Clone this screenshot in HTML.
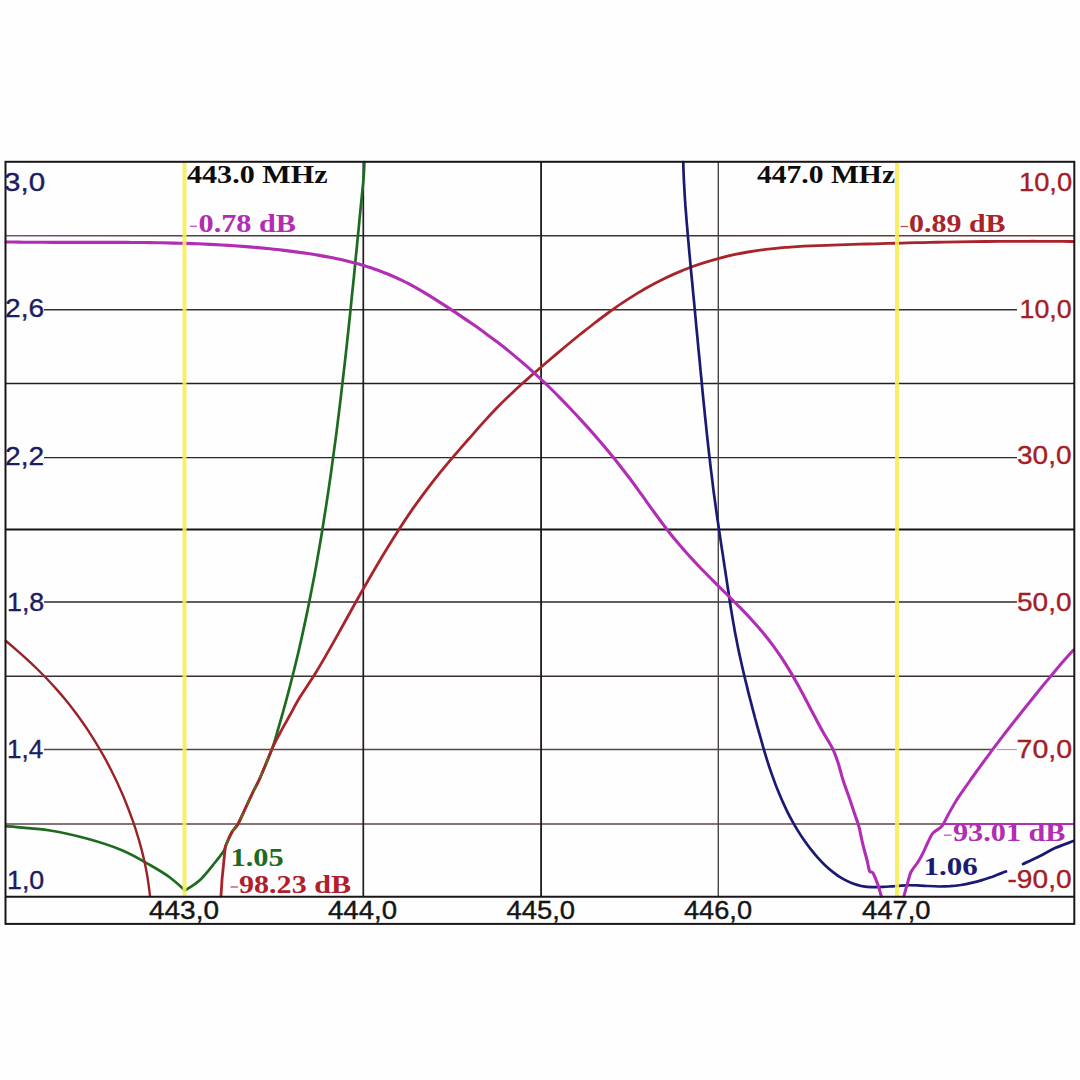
<!DOCTYPE html>
<html><head><meta charset="utf-8"><title>Duplexer response</title>
<style>
html,body{margin:0;padding:0;background:#fefefe;}
body{width:1080px;height:1080px;overflow:hidden;font-family:"Liberation Sans",sans-serif;}
svg{display:block;}
</style></head><body>
<svg width="1080" height="1080" viewBox="0 0 1080 1080">
<rect width="1080" height="1080" fill="#fefefe"/>
<defs><linearGradient id="g1" gradientUnits="userSpaceOnUse" x1="5" y1="0" x2="1075" y2="0"><stop offset="0" stop-color="#7a5478"/><stop offset="0.3" stop-color="#3c3236"/><stop offset="0.62" stop-color="#3c3236"/><stop offset="0.8" stop-color="#6e3a3a"/><stop offset="1" stop-color="#7c3434"/></linearGradient></defs>
<line x1="5.5" y1="235.7" x2="1074.3" y2="235.7" stroke="url(#g1)" stroke-width="1.5"/>
<line x1="44.0" y1="309.8" x2="1017.0" y2="309.8" stroke="#34302f" stroke-width="1.4"/>
<line x1="5.5" y1="383.5" x2="1074.3" y2="383.5" stroke="#241e20" stroke-width="1.6"/>
<line x1="44.0" y1="457.6" x2="1017.0" y2="457.6" stroke="#2c2627" stroke-width="1.4"/>
<line x1="5.5" y1="529.5" x2="1074.3" y2="529.5" stroke="#171314" stroke-width="1.9"/>
<line x1="44.0" y1="602.0" x2="1017.0" y2="602.0" stroke="#2e2728" stroke-width="1.5"/>
<line x1="5.5" y1="676.2" x2="1074.3" y2="676.2" stroke="#3a2f30" stroke-width="1.5"/>
<line x1="44.0" y1="749.6" x2="993.0" y2="749.6" stroke="#5a4444" stroke-width="1.5"/>
<line x1="5.5" y1="824.1" x2="1074.3" y2="824.1" stroke="#5c4646" stroke-width="1.5"/>
<line x1="363.3" y1="161.8" x2="363.3" y2="896.8" stroke="#221c1e" stroke-width="1.7"/>
<line x1="541.1" y1="161.8" x2="541.1" y2="896.8" stroke="#1e191b" stroke-width="1.8"/>
<line x1="718.3" y1="161.8" x2="718.3" y2="896.8" stroke="#4c4648" stroke-width="1.4"/>
<line x1="997" y1="749.6" x2="1017" y2="749.6" stroke="#c77fb0" stroke-width="1"/>
<line x1="943" y1="824.1" x2="1074.3" y2="824.1" stroke="#b02db4" stroke-width="1.6"/>
<path d="M6.0 826.2 C13.3 827.0 36.4 828.4 50.0 830.5 C63.6 832.6 75.4 835.4 87.5 838.8 C99.6 842.1 112.1 846.1 122.5 850.5 C132.9 854.9 142.1 860.5 150.0 865.0 C157.9 869.5 164.2 873.2 170.0 877.5 C175.8 881.8 182.5 888.3 185.0 890.5" fill="none" stroke="#1d6b1f" stroke-width="2.7" stroke-linejoin="round" stroke-linecap="round"/>
<path d="M185.0 890.5 C187.5 888.8 195.0 884.7 200.0 880.0 C205.0 875.3 211.0 867.4 215.0 862.5 C219.0 857.6 222.2 853.4 224.0 850.5 C225.8 847.6 224.7 848.1 226.0 845.0 C227.3 841.9 230.0 835.5 232.0 832.0 C234.0 828.5 235.7 828.2 238.0 824.0 C240.3 819.8 243.5 812.3 246.0 807.0 C248.5 801.7 250.7 796.8 253.0 792.0 C255.3 787.2 256.8 785.2 260.0 778.0 C263.2 770.8 269.0 757.0 272.0 749.0 C275.0 741.0 276.0 736.3 277.9 729.9 C279.8 723.5 281.6 717.1 283.4 710.7 C285.2 704.2 286.9 697.8 288.6 691.3 C290.3 684.9 292.0 678.4 293.6 672.0 C295.2 665.5 296.8 659.0 298.3 652.6 C299.8 646.1 301.3 639.6 302.7 633.1 C304.1 626.6 305.5 620.1 306.9 613.6 C308.2 607.1 309.6 600.5 310.8 594.0 C312.1 587.5 313.4 580.9 314.6 574.4 C315.8 567.8 317.0 561.3 318.1 554.7 C319.3 548.2 320.4 541.6 321.5 535.0 C322.6 528.5 323.6 521.9 324.6 515.3 C325.7 508.7 326.7 502.1 327.7 495.5 C328.7 488.9 329.6 482.3 330.6 475.7 C331.5 469.1 332.4 462.5 333.3 455.9 C334.2 449.3 335.1 442.7 336.0 436.1 C336.8 429.5 337.7 422.9 338.5 416.2 C339.3 409.6 340.1 403.0 340.9 396.4 C341.7 389.7 342.5 383.1 343.2 376.5 C344.0 369.9 344.8 363.2 345.5 356.6 C346.2 350.0 347.0 343.3 347.7 336.7 C348.4 330.1 349.1 323.4 349.8 316.8 C350.5 310.1 351.2 303.5 351.8 296.9 C352.5 290.2 353.2 283.6 353.9 277.0 C354.5 270.3 355.2 263.7 355.8 257.1 C356.5 250.4 357.2 243.8 357.8 237.2 C358.5 230.6 359.1 223.9 359.7 217.3 C360.4 210.7 361.0 204.1 361.7 197.5 C362.3 190.8 363.2 183.5 363.6 177.6 C364.1 171.7 364.3 164.6 364.4 162.0" fill="none" stroke="#1d6b1f" stroke-width="2.7" stroke-linejoin="round" stroke-linecap="round"/>
<path d="M6.0 641.0 C7.8 642.5 13.1 647.0 16.6 650.1 C20.1 653.1 23.6 656.2 27.0 659.4 C30.4 662.5 33.8 665.7 37.2 669.0 C40.5 672.3 43.8 675.6 47.1 679.0 C50.3 682.4 53.5 685.9 56.6 689.4 C59.7 692.9 62.7 696.4 65.7 700.0 C68.7 703.6 71.5 707.3 74.3 711.0 C77.2 714.7 79.9 718.5 82.5 722.3 C85.2 726.1 87.8 729.9 90.3 733.8 C92.8 737.7 95.3 741.7 97.6 745.6 C100.0 749.6 102.3 753.6 104.6 757.7 C106.8 761.8 109.0 765.9 111.1 770.0 C113.2 774.2 115.2 778.3 117.2 782.6 C119.1 786.8 121.0 791.0 122.9 795.3 C124.7 799.6 126.4 803.9 128.1 808.2 C129.8 812.6 131.4 817.0 133.0 821.4 C134.5 825.8 136.0 830.2 137.3 834.7 C138.7 839.1 140.0 843.6 141.2 848.1 C142.4 852.7 143.5 857.2 144.5 861.7 C145.5 866.3 146.4 870.9 147.2 875.5 C148.0 880.1 148.7 885.9 149.2 889.3 C149.6 892.7 149.9 894.9 150.0 896.0" fill="none" stroke="#9a2226" stroke-width="2.4" stroke-linejoin="round" stroke-linecap="round"/>
<path d="M221.0 896.0 C221.2 893.3 221.7 884.3 222.0 880.0 C222.3 875.7 222.5 875.0 223.0 870.0 C223.5 865.0 224.5 854.2 225.0 850.0 C225.5 845.8 224.8 848.0 226.0 845.0 C227.2 842.0 230.0 835.5 232.0 832.0 C234.0 828.5 235.7 828.2 238.0 824.0 C240.3 819.8 243.5 812.3 246.0 807.0 C248.5 801.7 250.7 796.8 253.0 792.0 C255.3 787.2 256.8 785.2 260.0 778.0 C263.2 770.8 268.7 756.5 272.0 749.0 C275.3 741.5 277.0 738.7 280.0 733.0 C283.0 727.3 286.7 721.0 290.0 715.0 C293.3 709.0 296.0 703.6 300.0 697.1 C304.0 690.5 309.3 683.1 314.0 675.6 C318.7 668.1 323.3 660.0 328.0 651.9 C332.7 643.8 337.3 635.4 342.0 627.0 C346.7 618.6 351.3 610.1 356.0 601.8 C360.7 593.5 365.3 585.2 370.0 577.2 C374.7 569.1 379.3 561.1 384.0 553.4 C388.7 545.7 393.3 538.2 398.0 530.9 C402.7 523.7 407.3 516.7 412.0 509.9 C416.7 503.2 421.3 496.8 426.0 490.6 C430.7 484.3 435.3 478.4 440.0 472.6 C444.7 466.8 449.3 461.3 454.0 455.8 C458.7 450.4 463.3 445.1 468.0 439.8 C472.7 434.5 477.3 429.1 482.0 423.9 C486.7 418.8 491.3 413.6 496.0 408.8 C500.7 403.9 505.3 399.3 510.0 394.9 C514.7 390.4 519.3 386.2 524.0 382.0 C528.7 377.9 533.3 373.8 538.0 369.8 C542.7 365.8 547.3 361.8 552.0 357.8 C556.7 353.9 561.3 349.9 566.0 346.0 C570.7 342.1 575.3 338.3 580.0 334.5 C584.7 330.8 589.3 327.1 594.0 323.5 C598.7 319.9 603.3 316.4 608.0 313.0 C612.7 309.6 617.3 306.3 622.0 303.2 C626.7 300.0 631.3 297.0 636.0 294.1 C640.7 291.3 645.3 288.5 650.0 286.0 C654.7 283.4 659.3 281.0 664.0 278.7 C668.7 276.5 673.3 274.4 678.0 272.4 C682.7 270.4 687.3 268.6 692.0 266.8 C696.7 265.1 701.3 263.5 706.0 262.1 C710.7 260.6 715.3 259.3 720.0 258.1 C724.7 256.8 729.3 255.7 734.0 254.7 C738.7 253.7 743.3 252.8 748.0 252.0 C752.7 251.2 757.3 250.5 762.0 249.9 C766.7 249.3 771.3 248.8 776.0 248.3 C780.7 247.8 785.3 247.5 790.0 247.1 C794.7 246.8 799.3 246.5 804.0 246.2 C808.7 246.0 813.3 245.8 818.0 245.6 C822.7 245.4 827.3 245.2 832.0 245.1 C836.7 244.9 841.3 244.8 846.0 244.6 C850.7 244.5 855.3 244.3 860.0 244.2 C864.7 244.1 869.3 243.9 874.0 243.8 C878.7 243.7 883.3 243.5 888.0 243.4 C892.7 243.3 897.3 243.2 902.0 243.1 C906.7 242.9 911.3 242.8 916.0 242.7 C920.7 242.6 925.3 242.5 930.0 242.4 C934.7 242.3 939.3 242.2 944.0 242.1 C948.7 242.0 953.3 241.9 958.0 241.9 C962.7 241.8 967.3 241.7 972.0 241.7 C976.7 241.6 981.3 241.5 986.0 241.5 C990.7 241.4 995.3 241.4 1000.0 241.4 C1004.7 241.3 1009.3 241.3 1014.0 241.3 C1018.7 241.3 1023.3 241.3 1028.0 241.3 C1032.7 241.2 1037.3 241.3 1042.0 241.3 C1046.7 241.3 1051.3 241.3 1056.0 241.3 C1060.7 241.4 1067.1 241.4 1070.0 241.5 C1072.9 241.5 1072.9 241.5 1073.5 241.5" fill="none" stroke="#a8242a" stroke-width="2.8" stroke-linejoin="round" stroke-linecap="round"/>
<path d="M683.3 162.0 C683.3 163.9 683.4 169.5 683.6 173.1 C683.7 176.8 683.9 180.4 684.1 184.0 C684.3 187.7 684.5 191.3 684.7 195.0 C684.9 198.6 685.2 202.2 685.4 205.9 C685.7 209.5 686.0 213.2 686.3 216.8 C686.5 220.4 686.8 224.1 687.2 227.7 C687.5 231.4 687.8 235.0 688.1 238.7 C688.4 242.3 688.8 246.0 689.1 249.6 C689.4 253.3 689.8 256.9 690.1 260.6 C690.5 264.2 690.8 267.9 691.1 271.5 C691.5 275.2 691.8 278.8 692.2 282.5 C692.5 286.1 692.9 289.8 693.2 293.4 C693.6 297.1 693.9 300.7 694.3 304.4 C694.6 308.1 695.0 311.7 695.3 315.4 C695.7 319.0 696.0 322.7 696.3 326.3 C696.7 330.0 697.0 333.6 697.4 337.3 C697.7 341.0 698.1 344.6 698.4 348.3 C698.8 351.9 699.1 355.6 699.5 359.2 C699.8 362.9 700.2 366.5 700.5 370.2 C700.9 373.8 701.2 377.5 701.6 381.2 C701.9 384.8 702.3 388.5 702.6 392.1 C703.0 395.8 703.4 399.4 703.7 403.1 C704.1 406.7 704.5 410.4 704.8 414.0 C705.2 417.7 705.6 421.3 706.0 425.0 C706.3 428.6 706.7 432.3 707.1 435.9 C707.5 439.6 707.9 443.2 708.3 446.9 C708.7 450.5 709.1 454.2 709.6 457.8 C710.0 461.5 710.4 465.1 710.8 468.7 C711.3 472.4 711.7 476.0 712.2 479.7 C712.6 483.3 713.1 487.0 713.5 490.6 C714.0 494.2 714.5 497.9 715.0 501.5 C715.5 505.1 716.0 508.8 716.5 512.4 C717.0 516.0 717.5 519.7 718.1 523.3 C718.6 526.9 719.1 530.6 719.7 534.2 C720.2 537.8 720.8 541.5 721.3 545.1 C721.9 548.7 722.4 552.3 723.0 555.9 C723.5 559.6 724.1 563.2 724.6 566.8 C725.2 570.4 725.7 574.0 726.3 577.7 C726.8 581.3 727.4 584.9 727.9 588.5 C728.5 592.1 729.0 595.7 729.5 599.3 C730.1 602.9 730.6 606.5 731.2 610.1 C731.8 613.7 732.4 617.3 733.0 620.9 C733.6 624.5 734.3 628.1 734.9 631.7 C735.6 635.3 736.3 638.9 737.0 642.5 C737.7 646.1 738.5 649.7 739.2 653.3 C740.0 656.8 740.8 660.4 741.6 664.0 C742.4 667.6 743.2 671.2 744.1 674.7 C744.9 678.3 745.8 681.9 746.7 685.4 C747.5 689.0 748.4 692.6 749.3 696.1 C750.3 699.7 751.2 703.3 752.1 706.8 C753.0 710.4 754.0 713.9 754.9 717.5 C755.9 721.0 756.8 724.6 757.8 728.1 C758.8 731.7 759.8 735.2 760.8 738.7 C761.8 742.3 762.8 745.8 763.8 749.3 C764.9 752.8 765.9 756.3 767.0 759.8 C768.1 763.3 769.2 766.8 770.4 770.3 C771.6 773.7 772.8 777.2 774.1 780.6 C775.3 784.0 776.6 787.4 778.0 790.8 C779.4 794.2 780.8 797.6 782.3 800.9 C783.8 804.2 785.3 807.5 786.9 810.8 C788.5 814.1 790.2 817.3 792.0 820.6 C793.8 823.8 795.6 827.0 797.5 830.1 C799.5 833.3 801.5 836.4 803.6 839.5 C805.7 842.5 807.9 845.6 810.3 848.6 C812.6 851.5 815.0 854.5 817.5 857.3 C820.0 860.1 822.6 862.9 825.3 865.4 C828.0 868.0 830.8 870.4 833.7 872.6 C836.5 874.9 839.5 876.9 842.6 878.7 C845.7 880.5 848.8 882.0 852.1 883.3 C855.3 884.5 858.7 885.5 862.1 886.2 C865.5 886.8 869.1 887.1 872.6 887.2 C876.2 887.3 879.9 887.1 883.6 886.9 C887.2 886.7 891.0 886.3 894.7 886.1 C898.5 885.8 902.2 885.5 906.0 885.3 C909.7 885.2 913.5 885.3 917.2 885.4 C920.9 885.5 924.6 885.8 928.3 886.0 C931.9 886.2 935.6 886.4 939.2 886.5 C942.9 886.5 946.5 886.4 950.1 886.2 C953.7 885.9 957.2 885.5 960.8 885.0 C964.4 884.4 967.9 883.7 971.4 882.9 C975.0 882.1 978.5 881.2 982.0 880.1 C985.5 879.1 989.0 877.9 992.5 876.7 C995.9 875.4 1000.6 873.4 1002.9 872.6 C1005.1 871.7 1005.5 871.7 1006.0 871.5" fill="none" stroke="#1b1a72" stroke-width="2.7" stroke-linejoin="round" stroke-linecap="round"/>
<path d="M1023.0 864.0 C1025.8 862.7 1034.7 858.7 1040.0 856.0 C1045.3 853.3 1049.4 850.5 1055.0 848.0 C1060.6 845.5 1070.4 842.2 1073.5 841.0" fill="none" stroke="#1b1a72" stroke-width="2.8" stroke-linejoin="round" stroke-linecap="round"/>
<path d="M226.0 845.0 C227.0 842.8 230.0 835.5 232.0 832.0 C234.0 828.5 235.7 828.2 238.0 824.0 C240.3 819.8 243.5 812.3 246.0 807.0 C248.5 801.7 250.7 796.8 253.0 792.0 C255.3 787.2 256.8 785.2 260.0 778.0 C263.2 770.8 270.0 753.8 272.0 749.0" fill="none" stroke="#5d6a1e" stroke-width="2.4" stroke-dasharray="7 8" stroke-opacity="0.85"/>
<path d="M6.0 242.0 C8.0 242.0 14.0 242.1 18.0 242.1 C22.0 242.2 26.0 242.2 30.0 242.3 C34.0 242.3 38.0 242.3 42.0 242.3 C46.0 242.3 50.0 242.3 54.0 242.4 C58.0 242.4 62.0 242.4 66.0 242.4 C70.0 242.4 74.0 242.4 78.0 242.4 C82.0 242.4 86.0 242.4 90.0 242.4 C94.0 242.4 98.0 242.4 102.0 242.4 C106.0 242.4 110.0 242.4 114.0 242.4 C118.0 242.4 122.0 242.4 126.0 242.4 C130.0 242.4 134.0 242.5 138.0 242.5 C142.0 242.5 146.0 242.6 150.0 242.6 C154.0 242.7 158.0 242.8 162.0 242.8 C166.0 242.9 170.0 243.0 174.0 243.1 C178.0 243.2 182.0 243.3 186.0 243.4 C190.0 243.5 194.0 243.7 198.0 243.8 C202.0 244.0 206.0 244.2 210.0 244.4 C214.0 244.6 218.0 244.8 222.0 245.0 C226.0 245.2 230.0 245.5 234.0 245.7 C238.0 246.0 242.0 246.3 246.0 246.6 C250.0 246.9 254.0 247.3 258.0 247.6 C262.0 248.0 266.0 248.4 270.0 248.8 C274.0 249.2 278.0 249.6 282.0 250.1 C286.0 250.6 290.0 251.1 294.0 251.6 C298.0 252.1 302.0 252.6 306.0 253.2 C310.0 253.8 314.0 254.4 318.0 255.1 C322.0 255.8 326.0 256.5 330.0 257.3 C334.0 258.1 338.0 258.9 342.0 259.8 C346.0 260.8 350.0 261.7 354.0 262.8 C358.0 263.9 362.0 265.0 366.0 266.3 C370.0 267.5 374.0 268.9 378.0 270.3 C382.0 271.8 386.0 273.3 390.0 275.0 C394.0 276.7 398.0 278.5 402.0 280.4 C406.0 282.4 410.0 284.4 414.0 286.6 C418.0 288.8 422.0 291.1 426.0 293.6 C430.0 296.0 434.0 298.5 438.0 301.1 C442.0 303.6 446.0 306.2 450.0 308.9 C454.0 311.5 458.0 314.2 462.0 316.9 C466.0 319.6 470.0 322.3 474.0 325.1 C478.0 327.9 482.0 330.8 486.0 333.7 C490.0 336.6 494.0 339.6 498.0 342.6 C502.0 345.7 506.0 348.9 510.0 352.1 C514.0 355.4 518.0 358.7 522.0 362.2 C526.0 365.6 530.0 369.2 534.0 372.8 C538.0 376.4 542.0 380.2 546.0 384.0 C550.0 387.9 554.0 391.8 558.0 395.8 C562.0 399.8 566.0 404.0 570.0 408.2 C574.0 412.4 578.0 416.7 582.0 421.1 C586.0 425.4 590.0 429.9 594.0 434.5 C598.0 439.1 602.0 443.7 606.0 448.5 C610.0 453.3 614.0 458.2 618.0 463.2 C622.0 468.3 626.0 473.5 630.0 478.8 C634.0 484.1 638.0 489.7 642.0 495.2 C646.0 500.8 650.0 506.5 654.0 512.0 C658.0 517.5 662.0 523.0 666.0 528.2 C670.0 533.4 674.0 538.4 678.0 543.1 C682.0 547.9 686.0 552.4 690.0 556.8 C694.0 561.2 698.0 565.4 702.0 569.5 C706.0 573.6 710.0 577.6 714.0 581.6 C718.0 585.6 722.0 589.5 726.0 593.5 C730.0 597.5 734.0 601.4 738.0 605.5 C742.0 609.6 746.0 613.6 750.0 618.0 C754.0 622.3 758.0 626.8 762.0 631.6 C766.0 636.4 770.0 641.4 774.0 646.9 C778.0 652.4 782.0 658.2 786.0 664.6 C790.0 670.9 794.0 677.9 798.0 685.0 C802.0 692.2 806.0 700.1 810.0 707.7 C814.0 715.2 818.2 723.5 822.0 730.3 C825.8 737.1 829.8 743.1 832.5 748.4 C835.2 753.8 836.2 757.2 838.0 762.5 C839.8 767.8 841.0 773.8 843.0 780.0 C845.0 786.2 848.0 794.2 850.0 800.0 C852.0 805.8 853.5 810.6 855.0 815.0 C856.5 819.4 857.4 821.2 858.8 826.2 C860.1 831.2 861.6 839.4 863.0 845.0 C864.4 850.6 865.9 855.7 867.0 860.0 C868.1 864.3 868.5 868.8 869.5 871.0 C870.5 873.2 871.6 870.7 873.0 873.0 C874.4 875.3 876.6 881.2 878.0 885.0 C879.4 888.8 880.7 894.2 881.2 896.0" fill="none" stroke="#b02db4" stroke-width="3.1" stroke-linejoin="round" stroke-linecap="round"/>
<path d="M904.0 896.0 C904.5 894.2 905.8 889.0 907.0 885.0 C908.2 881.0 909.2 875.8 911.0 872.0 C912.8 868.2 916.0 865.2 918.0 862.0 C920.0 858.8 921.2 856.7 923.0 853.0 C924.8 849.3 927.3 843.3 929.0 840.0 C930.7 836.7 930.8 835.3 933.0 833.0 C935.2 830.7 939.5 829.0 942.0 826.0 C944.5 823.0 945.7 819.1 948.0 815.0 C950.3 810.9 953.1 805.7 955.9 801.2 C958.7 796.7 961.8 792.4 964.8 788.0 C967.9 783.7 970.9 779.3 974.0 775.0 C977.1 770.6 980.2 766.3 983.4 762.0 C986.5 757.7 989.7 753.5 992.9 749.2 C996.1 744.9 999.3 740.7 1002.6 736.4 C1005.8 732.2 1009.1 728.0 1012.4 723.8 C1015.7 719.6 1019.0 715.4 1022.3 711.2 C1025.6 707.0 1029.0 702.9 1032.3 698.7 C1035.7 694.6 1039.0 690.4 1042.4 686.3 C1045.8 682.2 1049.2 678.1 1052.6 674.0 C1056.0 669.9 1059.4 665.8 1062.9 661.8 C1066.4 657.8 1071.7 652.0 1073.5 650.0" fill="none" stroke="#b02db4" stroke-width="3.0" stroke-linejoin="round" stroke-linecap="round"/>
<line x1="184.5" y1="162.8" x2="184.5" y2="895.8" stroke="#f8ec58" stroke-width="4.0" stroke-opacity="0.9"/>
<line x1="897" y1="162.8" x2="897" y2="895.8" stroke="#f8ec58" stroke-width="4.0" stroke-opacity="0.9"/>
<rect x="5.5" y="161.8" width="1068.8" height="762.1" fill="none" stroke="#1a1618" stroke-width="2"/>
<line x1="5.5" y1="896.8" x2="1074.3" y2="896.8" stroke="#1a1618" stroke-width="2"/>
<text id="l30" x="4.00" y="191.00" font-family="'Liberation Sans', sans-serif" font-weight="normal" font-size="25.00" fill="#1c1c5e" stroke="#1c1c5e" stroke-width="0.35" textLength="41.11" lengthAdjust="spacingAndGlyphs">3,0</text>
<text id="l26" x="5.00" y="317.30" font-family="'Liberation Sans', sans-serif" font-weight="normal" font-size="25.00" fill="#1c1c5e" stroke="#1c1c5e" stroke-width="0.35" textLength="39.11" lengthAdjust="spacingAndGlyphs">2,6</text>
<text id="l22" x="5.00" y="465.00" font-family="'Liberation Sans', sans-serif" font-weight="normal" font-size="25.00" fill="#1c1c5e" stroke="#1c1c5e" stroke-width="0.35" textLength="39.11" lengthAdjust="spacingAndGlyphs">2,2</text>
<text id="l18" x="7.00" y="611.20" font-family="'Liberation Sans', sans-serif" font-weight="normal" font-size="25.00" fill="#1c1c5e" stroke="#1c1c5e" stroke-width="0.35" textLength="37.29" lengthAdjust="spacingAndGlyphs">1,8</text>
<text id="l14" x="7.00" y="757.50" font-family="'Liberation Sans', sans-serif" font-weight="normal" font-size="25.00" fill="#1c1c5e" stroke="#1c1c5e" stroke-width="0.35" textLength="36.12" lengthAdjust="spacingAndGlyphs">1,4</text>
<text id="l10" x="7.00" y="888.80" font-family="'Liberation Sans', sans-serif" font-weight="normal" font-size="25.00" fill="#1c1c5e" stroke="#1c1c5e" stroke-width="0.35" textLength="37.25" lengthAdjust="spacingAndGlyphs">1,0</text>
<text id="r10" x="1019.00" y="191.00" font-family="'Liberation Sans', sans-serif" font-weight="normal" font-size="25.00" fill="#a51d26" stroke="#a51d26" stroke-width="0.35" textLength="53.14" lengthAdjust="spacingAndGlyphs">10,0</text>
<text id="rm10" x="1019.50" y="317.50" font-family="'Liberation Sans', sans-serif" font-weight="normal" font-size="25.00" fill="#a51d26" stroke="#a51d26" stroke-width="0.35" textLength="52.17" lengthAdjust="spacingAndGlyphs">10,0</text>
<text id="rm30" x="1017.00" y="464.30" font-family="'Liberation Sans', sans-serif" font-weight="normal" font-size="25.00" fill="#a51d26" stroke="#a51d26" stroke-width="0.35" textLength="54.58" lengthAdjust="spacingAndGlyphs">30,0</text>
<text id="rm50" x="1017.00" y="611.30" font-family="'Liberation Sans', sans-serif" font-weight="normal" font-size="25.00" fill="#a51d26" stroke="#a51d26" stroke-width="0.35" textLength="54.58" lengthAdjust="spacingAndGlyphs">50,0</text>
<text id="rm70" x="1016.50" y="757.90" font-family="'Liberation Sans', sans-serif" font-weight="normal" font-size="25.00" fill="#a51d26" stroke="#a51d26" stroke-width="0.35" textLength="55.62" lengthAdjust="spacingAndGlyphs">70,0</text>
<text id="rm90" x="1007.50" y="888.30" font-family="'Liberation Sans', sans-serif" font-weight="normal" font-size="25.00" fill="#a51d26" stroke="#a51d26" stroke-width="0.35" textLength="64.07" lengthAdjust="spacingAndGlyphs">-90,0</text>
<text id="x443" x="149.00" y="918.80" font-family="'Liberation Sans', sans-serif" font-weight="normal" font-size="25.00" fill="#151515" stroke="#151515" stroke-width="0.40" textLength="70.01" lengthAdjust="spacingAndGlyphs">443,0</text>
<text id="x444" x="328.00" y="918.80" font-family="'Liberation Sans', sans-serif" font-weight="normal" font-size="25.00" fill="#151515" stroke="#151515" stroke-width="0.40" textLength="69.03" lengthAdjust="spacingAndGlyphs">444,0</text>
<text id="x445" x="506.50" y="918.80" font-family="'Liberation Sans', sans-serif" font-weight="normal" font-size="25.00" fill="#151515" stroke="#151515" stroke-width="0.40" textLength="68.52" lengthAdjust="spacingAndGlyphs">445,0</text>
<text id="x446" x="684.00" y="918.80" font-family="'Liberation Sans', sans-serif" font-weight="normal" font-size="25.00" fill="#151515" stroke="#151515" stroke-width="0.40" textLength="68.02" lengthAdjust="spacingAndGlyphs">446,0</text>
<text id="x447" x="862.00" y="918.80" font-family="'Liberation Sans', sans-serif" font-weight="normal" font-size="25.00" fill="#151515" stroke="#151515" stroke-width="0.40" textLength="68.52" lengthAdjust="spacingAndGlyphs">447,0</text>
<text id="m443" x="187.00" y="183.00" font-family="'Liberation Serif', serif" font-weight="bold" font-size="25.60" fill="#0c0c0c" textLength="140.52" lengthAdjust="spacingAndGlyphs">443.0 MHz</text>
<text id="m447" x="757.00" y="183.00" font-family="'Liberation Serif', serif" font-weight="bold" font-size="25.60" fill="#0c0c0c" textLength="138.02" lengthAdjust="spacingAndGlyphs">447.0 MHz</text>
<text id="d078" x="198.50" y="231.80" font-family="'Liberation Serif', serif" font-weight="bold" font-size="25.60" fill="#b02db4" textLength="97.53" lengthAdjust="spacingAndGlyphs">0.78 dB</text>
<line x1="190.0" y1="226.3" x2="197.0" y2="226.3" stroke="#b02db4" stroke-width="1.3" stroke-opacity="0.8"/>
<text id="d089" x="909.00" y="232.10" font-family="'Liberation Serif', serif" font-weight="bold" font-size="25.60" fill="#a8242a" textLength="96.53" lengthAdjust="spacingAndGlyphs">0.89 dB</text>
<line x1="900.6" y1="226.5" x2="908.0" y2="226.5" stroke="#a8242a" stroke-width="1.3" stroke-opacity="0.8"/>
<text id="v105" x="230.50" y="865.50" font-family="'Liberation Serif', serif" font-weight="bold" font-size="25.60" fill="#1d6b1f" textLength="53.19" lengthAdjust="spacingAndGlyphs">1.05</text>
<text id="d9823" x="239.00" y="892.50" font-family="'Liberation Serif', serif" font-weight="bold" font-size="25.60" fill="#b0202c" textLength="112.04" lengthAdjust="spacingAndGlyphs">98.23 dB</text>
<line x1="230.5" y1="887.0" x2="238.0" y2="887.0" stroke="#b0202c" stroke-width="1.3" stroke-opacity="0.8"/>
<text id="v106" x="923.50" y="875.40" font-family="'Liberation Serif', serif" font-weight="bold" font-size="25.60" fill="#1b1a72" textLength="54.27" lengthAdjust="spacingAndGlyphs">1.06</text>
<text id="d9301" x="953.00" y="840.70" font-family="'Liberation Serif', serif" font-weight="bold" font-size="25.60" fill="#b02db4" textLength="112.54" lengthAdjust="spacingAndGlyphs">93.01 dB</text>
<line x1="943.9" y1="835.2" x2="951.5" y2="835.2" stroke="#b02db4" stroke-width="1.3" stroke-opacity="0.8"/>
</svg>
</body></html>
